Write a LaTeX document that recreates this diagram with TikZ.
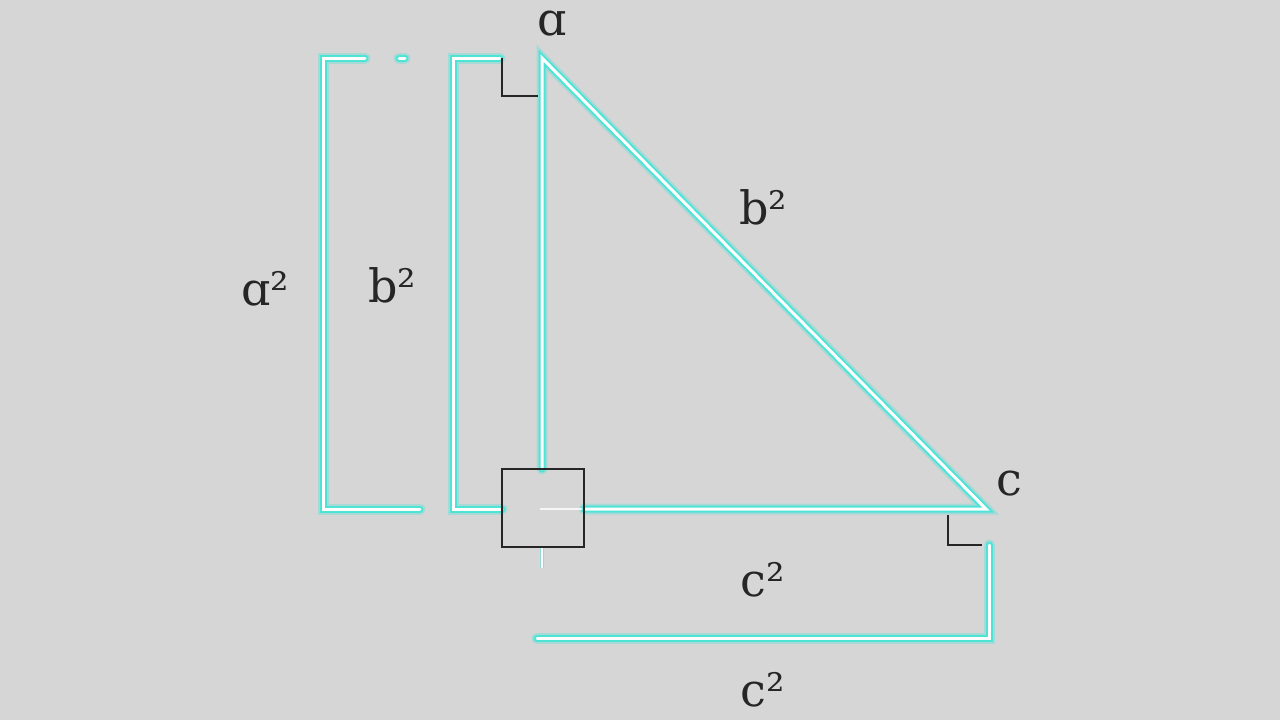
\documentclass[tikz,border=0pt]{standalone}
\usepackage{fontspec}
\setmainfont{DejaVu Serif}
\begin{document}
\begin{tikzpicture}[x=1pt,y=-1pt,
  glowa/.style={draw=glow, line width=11pt, line cap=round, line join=miter, opacity=0.35},
  glowc/.style={draw=glow, line width=7pt, line cap=round, line join=miter},
  corec/.style={draw=white, line width=3pt, line cap=round, line join=miter},
  blk/.style={draw=black!85, line width=1.8pt},
  lbl/.style={font=\fontsize{46}{46}\selectfont, text=black!85, inner sep=0pt, anchor=base}]
\definecolor{bg}{HTML}{D6D6D6}
\definecolor{glow}{HTML}{4FE3D6}
\fill[bg] (0,0) rectangle (1280,720);
\useasboundingbox (0,0) rectangle (1280,720);
% coordinates
\coordinate (L1) at (420,509); \coordinate (L2) at (323,509);
\coordinate (L3) at (323,58); \coordinate (L4) at (365,58);
\coordinate (D1) at (399,58); \coordinate (D2) at (405,58);
\coordinate (M1) at (500,58); \coordinate (M2) at (453,58);
\coordinate (M3) at (453,509); \coordinate (M4) at (502,509);
\coordinate (A) at (542,58); \coordinate (Av) at (542,469);
\coordinate (Bs) at (584,509); \coordinate (C) at (986,509);
\coordinate (E1) at (989,545); \coordinate (E2) at (989,638); \coordinate (E3) at (537,638);
\coordinate (F1) at (542,548); \coordinate (F2) at (542,568);
\coordinate (G1) at (540,509); \coordinate (G2) at (582,509);
% glowing lines
\foreach \s in {glowa,glowc,corec}{
  \draw[\s] (L1) -- (L2) -- (L3) -- (L4);
  \draw[\s] (D1) -- (D2);
  \draw[\s] (M1) -- (M2) -- (M3) -- (M4);
  \draw[\s] (Av) -- (A) -- (C) -- (Bs);
  \draw[\s] (E1) -- (E2) -- (E3);
}
\draw[draw=white, line width=1.8pt, opacity=0.8] (G1) -- (G2);
\draw[draw=glow, line width=4pt, opacity=0.5] (F1) -- (F2);
\draw[draw=white, line width=1.6pt] (F1) -- (F2);
% black markers
\node[blk, minimum width=82pt, minimum height=78pt, inner sep=0pt, fill=none] (sq) at (543,508) {};
\coordinate (K1) at (502,58); \coordinate (K2) at (502,96); \coordinate (K3) at (538,96);
\draw[blk] (K1) -- (K2) -- (K3);
\coordinate (J1) at (948,515); \coordinate (J2) at (948,545); \coordinate (J3) at (982,545);
\draw[blk] (J1) -- (J2) -- (J3);
% labels
\node[lbl] (la) at (552,35) {ɑ};
\node[lbl] (lb) at (763,224) {b²};
\node[lbl] (la2) at (265,305) {ɑ²};
\node[lbl] (lb2) at (392,302) {b²};
\node[lbl] (lc) at (1009,495) {c};
\node[lbl] (lc2) at (763,596) {c²};
\node[lbl] (lc3) at (763,706) {c²};
\end{tikzpicture}
\end{document}
